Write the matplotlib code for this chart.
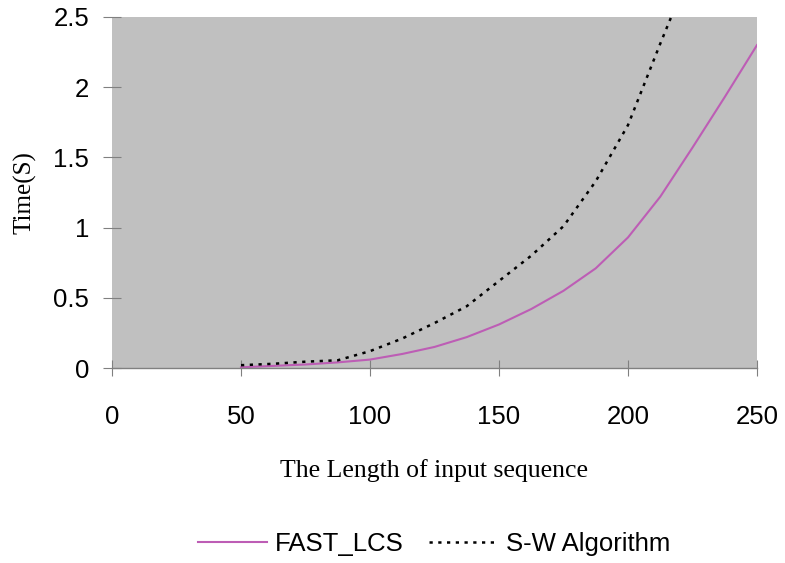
import matplotlib
matplotlib.use('Agg')
import matplotlib.pyplot as plt

# sequence length vs running time
lengths = [50, 62.5, 75, 87.5, 100, 112.5, 125, 137.5, 150, 162.5, 175, 187.5, 200, 212.5, 225, 237.5, 250]
fast_lcs = [0.005, 0.015, 0.025, 0.04, 0.06, 0.10, 0.15, 0.22, 0.31, 0.42, 0.55, 0.71, 0.93, 1.22, 1.57, 1.93, 2.30]
sw_lengths = [50, 62.5, 75, 87.5, 100, 112.5, 125, 137.5, 150, 162.5, 175, 187.5, 200, 212.5, 225]
sw_algo = [0.02, 0.03, 0.045, 0.055, 0.12, 0.21, 0.32, 0.44, 0.62, 0.80, 1.01, 1.33, 1.73, 2.31, 2.87]

x_ticks = [0, 50, 100, 150, 200, 250]
y_ticks = [0, 0.5, 1, 1.5, 2, 2.5]
y_labels = ['0', '0.5', '1', '1.5', '2', '2.5']

fig = plt.figure(figsize=(7.85, 5.63), dpi=100)
ax = fig.add_axes([112/785, 1-368/563, 645/785, 351/563])
ax.set_facecolor('#C0C0C0')

ax.plot(lengths, fast_lcs, color='#BD5DB5', lw=1.5, label='FAST_LCS')
ax.plot(sw_lengths, sw_algo, color='black', lw=1.8, linestyle=(0, (1.3, 2.2)), label='S-W Algorithm')

ax.set_xlim(0, 250)
ax.set_ylim(0, 2.5)
ax.set_xticks(x_ticks)
ax.set_yticks(y_ticks)
ax.set_yticklabels(y_labels)

for s in ['top', 'right', 'left']:
    ax.spines[s].set_visible(False)
ax.spines['bottom'].set_color('#808080')
ax.spines['bottom'].set_linewidth(1.0)

ax.tick_params(axis='x', direction='inout', length=12, width=0.8, color='#808080',
               pad=21, labelsize=18.5)
ax.tick_params(axis='y', direction='inout', length=13, width=0.8, color='#808080',
               pad=10, labelsize=18.5)
for lab in ax.get_xticklabels() + ax.get_yticklabels():
    lab.set_fontfamily('Liberation Sans')

ax.set_xlabel('The Length of input sequence', fontsize=18.5, fontfamily='Liberation Serif', labelpad=21)
ax.set_ylabel('Time(S)', fontsize=18, fontfamily='Liberation Serif', labelpad=12)

fig.legend(loc='center', bbox_to_anchor=(434/785, 1-544/563), ncol=2, frameon=False,
           prop={'family': 'Liberation Sans', 'size': 18.5}, handlelength=2.7,
           handletextpad=0.3, columnspacing=1.0)

fig.savefig('out.png', dpi=100)
